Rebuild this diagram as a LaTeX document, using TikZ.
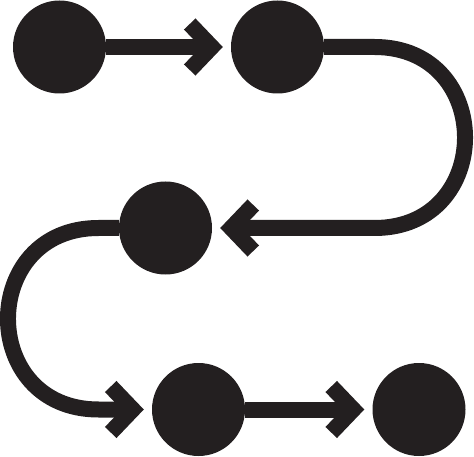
\documentclass[tikz,border=0pt]{standalone}
\usetikzlibrary{arrows.meta}
\definecolor{ink}{HTML}{231F20}

\begin{document}
\begin{tikzpicture}[x=1pt,y=-1pt,
    dot/.style={circle, fill=ink, inner sep=0pt, minimum size=93pt},
    link/.style={draw=ink, line width=16pt, -{Straight Barb[length=22pt,width=46pt]}, shorten >=8pt}]
    \useasboundingbox (0,0) rectangle (474,457);
    \node[dot] (a) at (59.5,47) {};
    \node[dot] (b) at (277.5,47) {};
    \node[dot] (c) at (165.5,228) {};
    \node[dot] (d) at (198.5,409.5) {};
    \node[dot] (e) at (419,409.5) {};
    \path[link]
    (a) -- (b);
    \path[link]
    (b) -- (374.5,47) .. controls (495.2,47) and (495.2,228) .. (374.5,228) -- (c);
    \path[link]
    (c) -- (98.5,228) .. controls (-22.2,228) and (-22.2,409.5) .. (98.5,409.5) -- (d);
    \path[link]
    (d) -- (e);
  \end{tikzpicture}
\end{document}
